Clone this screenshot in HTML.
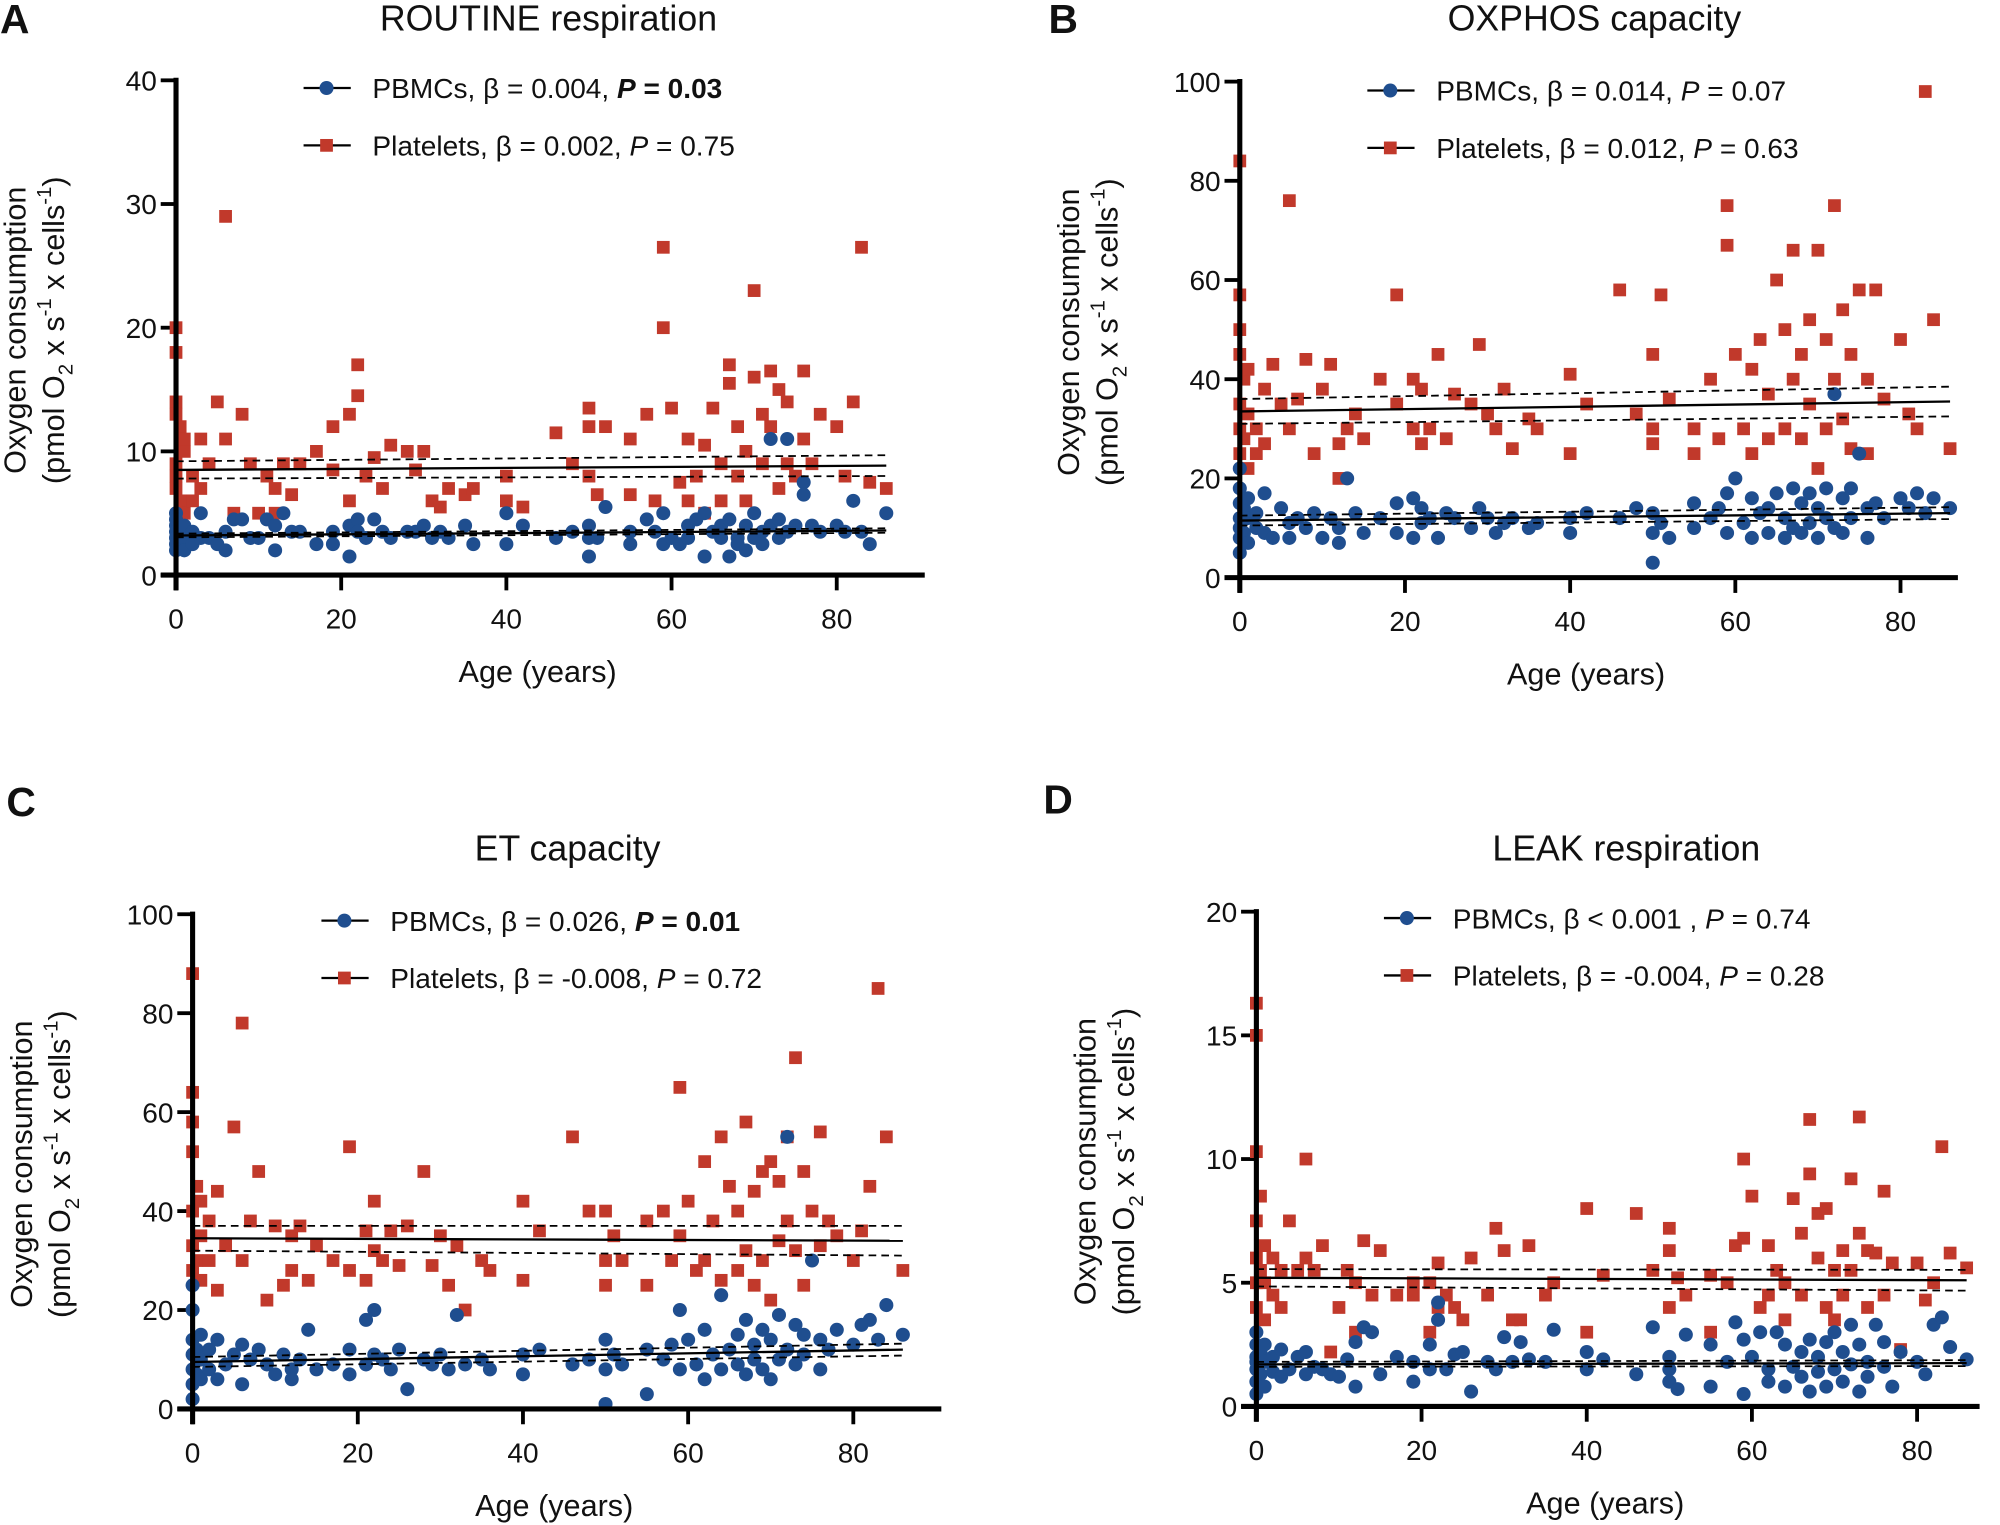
<!DOCTYPE html>
<html><head><meta charset="utf-8"><style>
html,body{margin:0;padding:0;background:#fff}
svg{display:block}
text{font-family:"Liberation Sans",sans-serif;fill:#111}
</style></head><body>
<svg id="fig" width="2000" height="1525" viewBox="0 0 1568 1196" preserveAspectRatio="none" xmlns="http://www.w3.org/2000/svg"></svg>
<script>
const ages=[0,0,0,0,0,0,0,0.5,0.5,1,1,1,2,2,3,3,4,5,6,6,7,8,9,10,11,12,12,13,14,15,17,19,19,21,21,22,22,23,24,25,26,28,29,30,31,32,33,35,36,40,40,42,46,48,50,50,50,51,52,55,55,57,58,59,59,60,61,62,62,63,64,64,65,66,66,67,67,68,68,69,69,70,70,71,71,72,72,73,73,74,74,75,76,76,77,78,80,81,82,83,84,86];
const routinePlt=[20,18,14,13,9,7,8,12,6,11,10,5,8,6,11,7,9,14,29,11,5,13,9,5,8,7,5,9,6.5,9,10,12,8.5,13,6,17,14.5,8,9.5,7,10.5,10,8.5,10,6,5.5,7,6.5,7,8,6,5.5,11.5,9,13.5,12,8,6.5,12,11,6.5,13,6,26.5,20,13.5,7.5,11,6,8,10.5,5,13.5,9,6,17,15.5,12,8,10,6,23,16,13,9,16.5,12,15,7,14,9,8,16.5,11,9,13,12,8,14,26.5,7.5,7];
const routinePbmc=[5,4,3.5,3,2.5,2,4.5,3,2.5,4,3,2,3.5,2.5,5,3,3,2.5,3.5,2,4.5,4.5,3,3,4.5,2,4,5,3.5,3.5,2.5,3.5,2.5,4,1.5,4.5,3.5,3,4.5,3.5,3,3.5,3.5,4,3,3.5,3,4,2.5,5,2.5,4,3,3.5,4,3,1.5,3,5.5,3.5,2.5,4.5,3.5,5,2.5,3,2.5,4,3,4.5,5,1.5,3.5,4,3,4.5,1.5,3,2.5,4,2,5,3,3.5,2.5,11,4,4.5,3,11,3.5,4,7.5,6.5,4,3.5,4,3.5,6,3.5,2.5,5];
const oxphosPlt=[84,57,50,45,35,30,25,40,28,42,33,22,30,25,38,27,43,35,76,30,36,44,25,38,43,27,20,30,33,28,40,57,35,40,30,38,27,30,45,28,37,35,47,33,30,38,26,32,30,41,25,35,58,33,45,30,27,57,36,30,25,40,28,75,67,45,30,42,25,48,37,28,60,50,30,66,40,45,28,52,35,66,22,48,30,75,40,54,32,45,26,58,40,25,58,36,48,33,30,98,52,26];
const oxphosPbmc=[22,18,15,12,10,8,5,14,9,16,12,7,13,10,17,9,8,14,11,8,12,10,13,8,12,10,7,20,13,9,12,15,9,16,8,14,11,12,8,13,12,10,14,12,9,11,12,10,11,12,9,13,12,14,13,9,3,11,8,15,10,12,14,17,9,20,11,16,8,13,14,9,17,12,8,18,10,15,9,17,11,14,8,18,12,37,10,16,9,18,12,25,14,8,15,12,16,14,17,13,16,14];
const etPlt=[88,64,58,52,40,33,28,45,30,42,35,26,38,30,44,24,33,57,78,30,38,48,22,37,25,35,28,37,26,33,30,53,28,36,26,42,32,30,36,29,37,48,29,35,25,33,20,30,28,42,26,36,55,40,40,30,25,35,30,38,25,40,30,65,35,42,28,50,30,38,55,26,45,40,28,58,32,44,25,48,30,50,22,46,34,55,38,71,32,48,25,40,56,33,38,35,30,36,45,85,55,28];
const etPbmc=[25,20,14,11,8,5,2,12,7,15,10,6,12,8,14,6,9,11,13,5,10,12,9,7,11,8,6,10,16,8,9,12,7,18,9,20,11,10,8,12,4,10,9,11,8,19,9,10,8,11,7,12,9,10,14,8,1,11,9,12,3,10,13,20,8,14,9,16,6,11,23,8,12,15,9,18,7,13,10,16,8,14,6,19,10,55,12,17,9,15,11,30,14,8,12,16,13,17,18,14,21,15];
const leakPlt=[16.3,15,10.3,7.5,6,5,4,8.5,5.5,6.5,5,3.5,6,4.5,5.5,4,7.5,5.5,10,6,5.5,6.5,2.2,4,5.5,5,3,6.7,4.5,6.3,4.5,5,4.5,5,3,5.8,4,4.5,4,3.5,6,4.5,7.2,6.3,3.5,3.5,6.5,4.5,5,8,3,5.3,7.8,5.5,7.2,6.3,4,5.2,4.5,5.3,3,5,6.5,10,6.8,8.5,4,6.5,4.5,5.5,5,3.5,8.4,7,4.5,11.6,9.4,7.8,6,8,4,5.5,3.5,6.3,4.5,9.2,5.5,11.7,7,6.3,4,6.2,8.7,4.5,5.8,2.3,5.8,4.3,5,10.5,6.2,5.6];
const leakPbmc=[3,2.5,2,1.8,1.5,1,0.5,2.2,1.3,2.5,1.8,0.8,2,1.4,2.3,1.2,1.5,2,2.2,1.3,1.6,1.5,1.3,1.2,1.9,2.6,0.8,3.2,3,1.3,2,1.8,1,2.5,1.5,4.2,3.5,1.5,2.1,2.2,0.6,1.8,1.5,2.8,1.8,2.6,1.9,1.8,3.1,2.2,1.5,1.9,1.3,3.2,2,1.5,1,0.7,2.9,2.5,0.8,1.8,3.4,2.7,0.5,2,3,1.5,1,3,2.5,0.8,1.6,2.2,1.2,2.7,0.6,2,1.4,2.6,0.8,3,1.5,2.2,1,3.3,1.7,2.5,0.6,1.8,1.2,3.3,2.6,1.6,0.8,2.2,1.8,1.3,3.3,3.6,2.4,1.9];
// fitted lines: [value at age 0, value at age 86, CI half-width]
const fitRoutinePlt=[8.5,8.85,0.7], fitRoutinePbmc=[3.2,3.6,0.15];
const fitOxphosPlt=[33.5,35.5,2.5], fitOxphosPbmc=[11.5,13,1];
const fitEtPlt=[34.5,34,2.5], fitEtPbmc=[9.5,12,1];
const fitLeakPlt=[5.2,5.1,0.35], fitLeakPbmc=[1.7,1.75,0.1];
const xTicks=[0,20,40,60,80];
const yTicksA=[0,10,20,30,40], yTicksB=[0,20,40,60,80,100], yTicksD=[0,5,10,15,20];

const NS="http://www.w3.org/2000/svg", svg=document.getElementById('fig');
function mk(tag,attrs,parent){const e=document.createElementNS(NS,tag);for(const k in attrs)e.setAttribute(k,attrs[k]);(parent||svg).appendChild(e);return e;}
const BLUE="#1f4e8f", RED="#c1392b";
const panels=[
 {id:'a',letter:'A',lx:0,ly:26,title:'ROUTINE respiration',tx:430,ty:24,ax:138,yto:118,y0:451,yTop:63,yMax:40,xEnd:725,ticks:yTicksA,plt:routinePlt,pb:routinePbmc,fp:fitRoutinePlt,fb:fitRoutinePbmc,legX:238,legY:69,leg1:['PBMCs, β = 0.004, ','P',' = 0.03',true],leg2:['Platelets, β = 0.002, ','P',' = 0.75',false]},
 {id:'b',letter:'B',lx:822,ly:26,title:'OXPHOS capacity',tx:1250,ty:24,ax:972,yto:126,y0:453,yTop:64,yMax:100,xEnd:1535,ticks:yTicksB,plt:oxphosPlt,pb:oxphosPbmc,fp:fitOxphosPlt,fb:fitOxphosPbmc,legX:1072,legY:71,leg1:['PBMCs, β = 0.014, ','P',' = 0.07',false],leg2:['Platelets, β = 0.012, ','P',' = 0.63',false]},
 {id:'c',letter:'C',lx:5,ly:640,title:'ET capacity',tx:445,ty:675,ax:151,yto:126,y0:1105,yTop:717,yMax:100,xEnd:738,ticks:yTicksB,plt:etPlt,pb:etPbmc,fp:fitEtPlt,fb:fitEtPbmc,legX:252,legY:722,leg1:['PBMCs, β = 0.026, ','P',' = 0.01',true],leg2:['Platelets, β = -0.008, ','P',' = 0.72',false]},
 {id:'d',letter:'D',lx:818,ly:638,title:'LEAK respiration',tx:1275,ty:675,ax:985,yto:126,y0:1103,yTop:715,yMax:20,xEnd:1552,ticks:yTicksD,plt:leakPlt,pb:leakPbmc,fp:fitLeakPlt,fb:fitLeakPbmc,legX:1085,legY:720,leg1:['PBMCs, β < 0.001 , ','P',' = 0.74',false],leg2:['Platelets, β = -0.004, ','P',' = 0.28',false]}
];
panels.forEach(p=>{
 const g=mk('g',{});
 
 
 const X=a=>p.ax+a*6.475, Y=v=>p.y0-(v/p.yMax)*(p.y0-p.yTop);
 const L=mk('text',{x:p.lx,y:p.ly,'font-size':32,'font-weight':'bold'},g);L.textContent=p.letter;
 
 
 const T=mk('text',{x:p.tx,y:p.ty,'font-size':28,'text-anchor':'middle'},g);T.textContent=p.title;
 
 
 const cy=(p.y0+p.yTop)/2+2, yt=mk('g',{transform:`translate(${p.ax-p.yto},${cy}) rotate(-90)`},g);
 
 
 const t1=mk('text',{x:0,y:0,'font-size':24,'text-anchor':'middle'},yt);t1.textContent='Oxygen consumption';
 const t2=mk('text',{x:0,y:30,'font-size':24,'text-anchor':'middle'},yt);
 t2.innerHTML='(pmol O<tspan font-size="16" dy="7">2</tspan><tspan dy="-7"> x s</tspan><tspan font-size="16" dy="-10">-1</tspan><tspan dy="10"> x cells</tspan><tspan font-size="16" dy="-10">-1</tspan><tspan dy="10">)</tspan>';
 const xt=mk('text',{x:p.ax+(p.xEnd-p.ax)/2-10,y:p.y0+84,'font-size':24,'text-anchor':'middle'},g);xt.textContent='Age (years)';
 
 
 p.ticks.forEach(t=>{
  const y=Y(t);mk('line',{x1:p.ax-12,x2:p.ax,y1:y,y2:y,stroke:'#000','stroke-width':3},g);
  const tl=mk('text',{x:p.ax-15,y:y+8,'font-size':22,'text-anchor':'end'},g);tl.textContent=t;
  
  
 });
 xTicks.forEach(t=>{
  const x=X(t);mk('line',{x1:x,x2:x,y1:p.y0,y2:p.y0+12,stroke:'#000','stroke-width':3},g);
  const tl=mk('text',{x:x,y:p.y0+42,'font-size':22,'text-anchor':'middle'},g);tl.textContent=t;
  
  
 });
 p.plt.forEach((v,i)=>{const r=mk('rect',{x:X(ages[i])-5,y:Y(v)-5,width:10,height:10,fill:RED},g);
  
  });
 p.pb.forEach((v,i)=>{const c=mk('circle',{cx:X(ages[i]),cy:Y(v),r:5.5,fill:BLUE},g);
  
  });
 [p.fp,p.fb].forEach((f,k)=>{
  const x1=X(0),x2=X(86);
  const ln=mk('line',{x1,x2,y1:Y(f[0]),y2:Y(f[1]),stroke:'#000','stroke-width':1.8},g);
  
  
  [-1,1].forEach(s=>{mk('line',{x1,x2,y1:Y(f[0]+s*f[2]),y2:Y(f[1]+s*f[2]*1.2),stroke:'#000','stroke-width':1.4,'stroke-dasharray':'6 4'},g);});
 });
 const ya=mk('line',{x1:p.ax,x2:p.ax,y1:p.yTop-2,y2:p.y0+12,stroke:'#000','stroke-width':4},g);
 
 
 const xa=mk('line',{x1:p.ax-12,x2:p.xEnd,y1:p.y0,y2:p.y0,stroke:'#000','stroke-width':4},g);
 
 
 [p.leg1,p.leg2].forEach((lg,k)=>{
  const ly=p.legY+k*45, lgG=mk('g',{},g);
  
  
  mk('line',{x1:p.legX,x2:p.legX+37,y1:ly,y2:ly,stroke:'#000','stroke-width':1.8},lgG);
  if(k) mk('rect',{x:p.legX+13,y:ly-5,width:10,height:10,fill:RED},lgG);
  else mk('circle',{cx:p.legX+18,cy:ly,r:5.5,fill:BLUE},lgG);
  const tx=mk('text',{x:p.legX+54,y:ly+8,'font-size':22},lgG);
  const s1=mk('tspan',{},tx);s1.textContent=lg[0];
  const s2=mk('tspan',{'font-style':'italic','font-weight':lg[3]?'bold':'normal'},tx);s2.textContent=lg[1];
  const s3=mk('tspan',{'font-weight':lg[3]?'bold':'normal'},tx);s3.textContent=lg[2];
 });
});
</script>
</body></html>
